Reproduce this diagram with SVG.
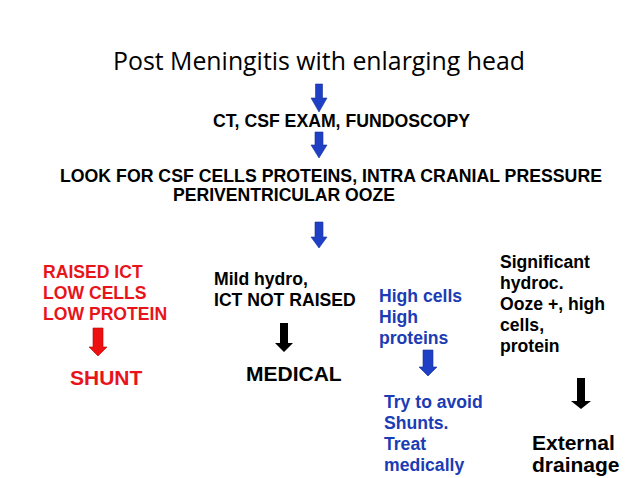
<svg xmlns="http://www.w3.org/2000/svg" width="638" height="478" viewBox="0 0 638 478">
<style>
.t{font-family:"Liberation Sans",Arial,sans-serif;font-weight:bold;font-size:17.6px}
.big{font-size:21px}
.k{fill:#000}
.r{fill:#e8141b}
.b{fill:#1b3cb4}
.ab{fill:#1f3fc4;stroke:#16309a;stroke-width:0.6}
.ar{fill:#ee1010;stroke:#b00;stroke-width:0.6}
.ak{fill:#000}
</style>
<rect width="638" height="478" fill="#fff"/>
<g id="title">
<text x="113" y="70" font-family="'Open Sans','Noto Sans',sans-serif" font-size="25" fill="#000" textLength="412" lengthAdjust="spacingAndGlyphs">Post Meningitis with enlarging head</text>
</g>
<g id="exam"><text class="t k" x="213" y="127" textLength="257" lengthAdjust="spacingAndGlyphs">CT, CSF EXAM, FUNDOSCOPY</text></g>
<g id="look">
<text class="t k" x="60" y="182" textLength="542" lengthAdjust="spacingAndGlyphs">LOOK FOR CSF CELLS PROTEINS, INTRA CRANIAL PRESSURE</text>
<text class="t k" x="173" y="201" textLength="222" lengthAdjust="spacingAndGlyphs">PERIVENTRICULAR OOZE</text>
</g>
<g id="raised">
<text class="t r" x="43" y="278">RAISED ICT</text>
<text class="t r" x="43" y="299">LOW CELLS</text>
<text class="t r" x="43" y="320">LOW PROTEIN</text>
</g>
<g id="shunt"><text class="t big r" x="70" y="385">SHUNT</text></g>
<g id="mild">
<text class="t k" x="214" y="285">Mild hydro,</text>
<text class="t k" x="214" y="306">ICT NOT RAISED</text>
</g>
<g id="medical"><text class="t big k" x="246" y="381">MEDICAL</text></g>
<g id="high">
<text class="t b" x="379" y="302">High cells</text>
<text class="t b" x="379" y="323">High</text>
<text class="t b" x="379" y="344">proteins</text>
</g>
<g id="avoid">
<text class="t b" x="384" y="408">Try to avoid</text>
<text class="t b" x="384" y="429">Shunts.</text>
<text class="t b" x="384" y="450">Treat</text>
<text class="t b" x="384" y="471">medically</text>
</g>
<g id="significant">
<text class="t k" x="500" y="268">Significant</text>
<text class="t k" x="500" y="289">hydroc.</text>
<text class="t k" x="500" y="310">Ooze +, high</text>
<text class="t k" x="500" y="331">cells,</text>
<text class="t k" x="500" y="352">protein</text>
</g>
<g id="external">
<text class="t big k" x="532" y="450">External</text>
<text class="t big k" x="532" y="472">drainage</text>
</g>
<g id="connectors">
<path class="ab" d="M315.5,84H322.5V98H327L319,112L311,98H315.5Z"/>
<path class="ab" d="M315,132H323V145H327L319,158L311,145H315Z"/>
<path class="ab" d="M315,222H323V237H327L319,248L311,237H315Z"/>
<path class="ar" d="M93,328H103V347H107L98,356L89,347H93Z"/>
<path class="ak" d="M280,323H288V343H293L284,352L275,343H280Z"/>
<path class="ab" d="M423,350H433V367H437L428,376L419,367H423Z"/>
<path class="ak" d="M577,378H585V401H591L581,409L571,401H577Z"/>
</g>
</svg>
